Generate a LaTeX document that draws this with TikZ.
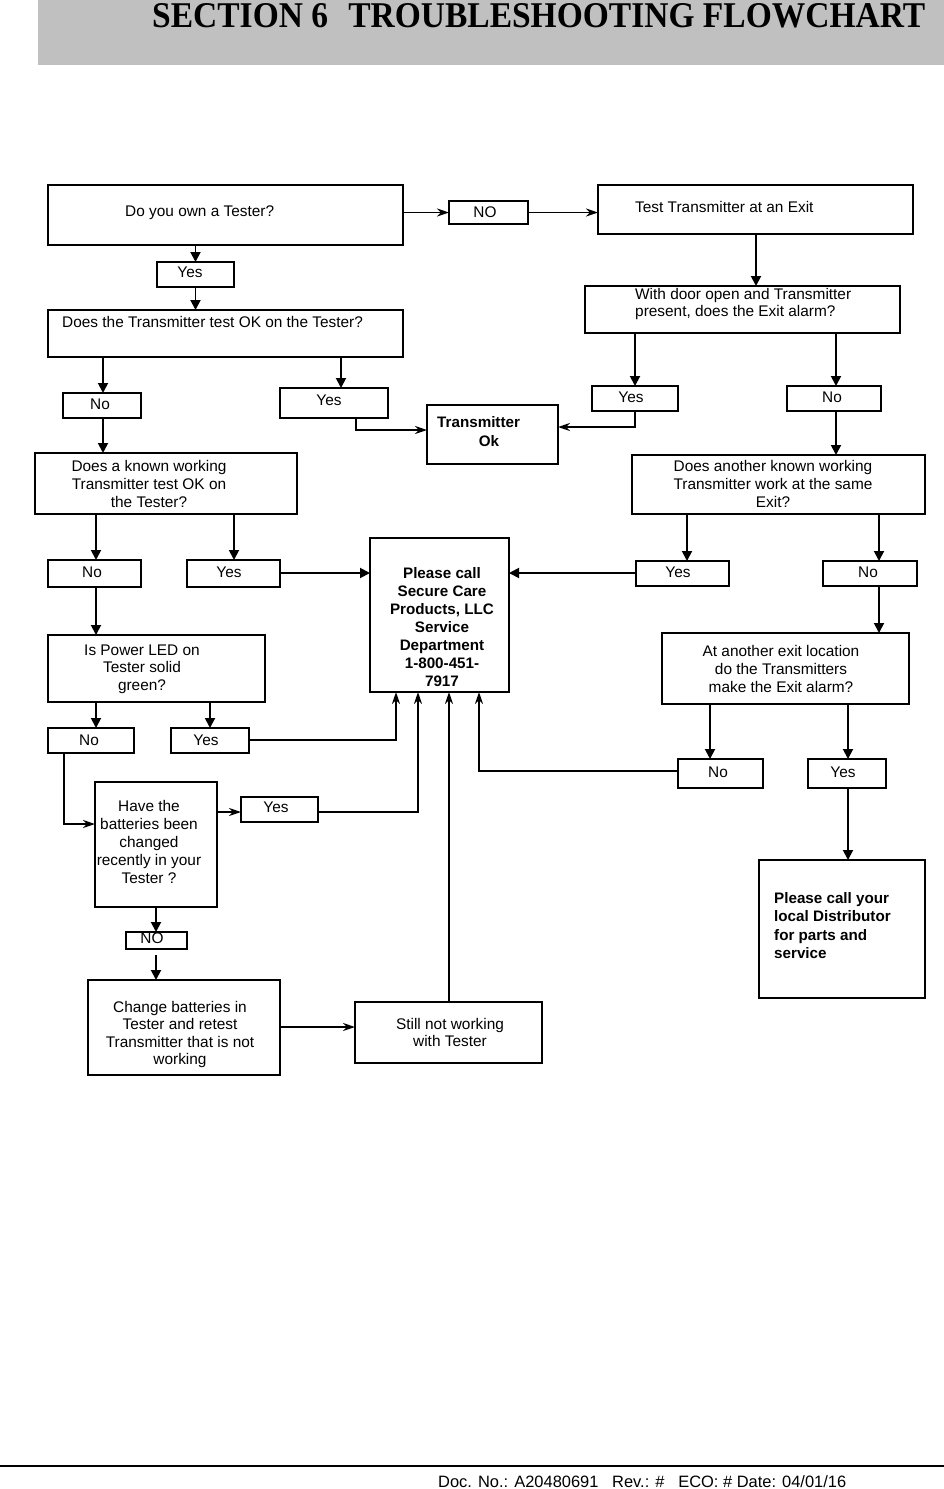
\documentclass[tikz,border=0pt]{standalone}
\usepackage{graphicx}
\usepackage{fontspec}
\setmainfont{Liberation Sans}
\newfontfamily\titlefont{Liberation Serif}
\usetikzlibrary{arrows.meta}
\definecolor{hdr}{RGB}{192,192,192}
\tikzset{
  box/.style={draw=black,line width=2pt,inner sep=0pt,outer sep=0pt},
  txt/.style={font=\fontsize{15.4}{17.6}\selectfont,inner sep=0pt,align=center},
  btxt/.style={font=\fontsize{15.2}{17.9}\selectfont\bfseries,inner sep=0pt,align=center},
  conn/.style={line width=1.9pt},
  darr/.style={conn,-{Triangle[length=10pt,width=10pt]}},
  tarr/.style={conn,-{Stealth[length=12pt,width=8pt,inset=4pt]}}
}
\newcommand\bx[5]{\node[box,minimum width={(#4-#2)*1pt},minimum height={(#5-#3)*1pt}] (#1) at ({(#2+#4)/2},{(#3+#5)/2}) {};}
\begin{document}
\begin{tikzpicture}[x=1pt,y=-1pt]
\useasboundingbox (0,0) rectangle (944,1489);
% header
\fill[hdr] (38,0) rectangle (944,65);
\node[anchor=south west,inner sep=0pt] (title) at (152,28) {\resizebox{773pt}{24pt}{\titlefont\bfseries SECTION 6\hspace{0.6em}TROUBLESHOOTING FLOWCHART}};
% footer
\draw[line width=2pt] (0,1466) -- (944,1466);
\node[anchor=west,inner sep=0pt] (foot) at (438,1482) {\resizebox{408pt}{!}{\fontsize{15}{18}\selectfont Doc. No.: A20480691\ \ \ Rev.: \#\ \ \ ECO: \# Date: 04/01/16}};

% boxes
\bx{bTester}{48}{185}{403}{245}
\bx{bNOa}{449}{201}{528}{224}
\bx{bTest}{598}{185}{913}{234}
\bx{bYesa}{157}{262}{234}{287}
\bx{bTestOK}{48}{310}{403}{357}
\bx{bNob}{63}{393}{141}{418}
\bx{bYesb}{280}{388}{388}{418}
\bx{bTOk}{427}{405}{558}{464}
\bx{bDoor}{585}{286}{900}{333}
\bx{bYesc}{592}{386}{678}{411}
\bx{bNoc}{787}{386}{881}{411}
\bx{bKnown}{35}{453}{297}{514}
\bx{bAnother}{632}{455}{925}{514}
\bx{bNod}{48}{560}{141}{587}
\bx{bYesd}{187}{560}{280}{587}
\bx{bCall}{370}{538}{509}{692}
\bx{bYese}{636}{561}{729}{586}
\bx{bNoe}{823}{561}{917}{586}
\bx{bLED}{48}{635}{265}{702}
\bx{bExit}{662}{633}{909}{704}
\bx{bNof}{48}{728}{134}{753}
\bx{bYesf}{171}{728}{249}{753}
\bx{bNog}{678}{759}{763}{788}
\bx{bYesg}{808}{759}{886}{788}
\bx{bDist}{759}{860}{925}{998}
\bx{bBatt}{95}{782}{217}{907}
\bx{bYesh}{241}{797}{318}{822}
\bx{bNOi}{126}{932}{187}{949}
\bx{bChange}{88}{980}{280}{1075}
\bx{bStill}{355}{1002}{542}{1063}

% texts
\node[txt,anchor=west] (t1) at (125,213) {Do you own a Tester?};
\node[txt] (t2) at (485,212) {NO};
\node[txt,anchor=west] (t3) at (635,207) {Test Transmitter at an Exit};
\node[txt] (t4) at (190,272) {Yes};
\node[txt,anchor=west] (t5) at (62,322) {Does the Transmitter test OK on the Tester?};
\node[txt] (t6) at (100,404) {No};
\node[txt] (t7) at (329,400) {Yes};
\node[btxt,anchor=west] (t8) at (437,422) {Transmitter};
\node[btxt] (t9) at (489,441) {Ok};
\node[txt,anchor=west,align=left,font=\fontsize{15.4}{17}\selectfont] (t10) at (635,304.5) {With door open and Transmitter\\present, does the Exit alarm?};
\node[txt] (t11) at (631,397) {Yes};
\node[txt] (t12) at (832,397) {No};
\node[txt] (t13) at (149,484) {Does a known working\\Transmitter test OK on\\the Tester?};
\node[txt] (t14) at (773,484) {Does another known working\\Transmitter work at the same\\Exit?};
\node[txt] (t15) at (92,572) {No};
\node[txt] (t16) at (229,572) {Yes};
\node[txt] (t17) at (678,572) {Yes};
\node[txt] (t18) at (868,572) {No};
\node[btxt] (t19) at (442,627) {Please call\\Secure Care\\Products, LLC\\Service\\Department\\1-800-451-\\7917};
\node[txt] (t20) at (142,669) {Is Power LED on\\Tester solid\\green?};
\node[txt] (t21) at (781,669) {At another exit location\\do the Transmitters\\make the Exit alarm?};
\node[txt] (t22) at (89,740) {No};
\node[txt] (t23) at (206,740) {Yes};
\node[txt] (t24) at (718,772) {No};
\node[txt] (t25) at (843,772) {Yes};
\node[btxt,anchor=west,align=left,font=\fontsize{15.2}{18.3}\selectfont\bfseries] (t26) at (774,925.5) {Please call your\\local Distributor\\for parts and\\service};
\node[txt,font=\fontsize{15.4}{17.8}\selectfont] (t27) at (149,842) {Have the\\batteries been\\changed\\recently in your\\Tester ?};
\node[txt] (t28) at (276,807) {Yes};
\node[txt] (t29) at (152,938) {NO};
\node[txt] (t30) at (180,1034.5) {Change batteries in\\Tester and retest\\Transmitter that is not\\working};
\node[txt,font=\fontsize{15.4}{17}\selectfont] (t31) at (450,1032.5) {Still not working\\with Tester};

% connectors
\draw[tarr] (bTester.east |- bNOa.west) -- (bNOa.west);
\draw[tarr] (bNOa.east) -- (bNOa.east -| bTest.west);
\draw[darr] (bTester.south -| bYesa.north) -- (bYesa.north);
\draw[darr] (bYesa.south) -- (bYesa.south |- bTestOK.north);
\draw[darr] (bTestOK.south -| 103,0) -- (bNob.north -| 103,0);
\draw[darr] (bTestOK.south -| 341,0) -- (bYesb.north -| 341,0);
\draw[tarr] (bYesb.south -| 356,0) |- (bTOk.west |- 0,430);
\draw[darr] (bTest.south -| 756,0) -- (bDoor.north -| 756,0);
\draw[darr] (bDoor.south -| 635,0) -- (bYesc.north -| 635,0);
\draw[darr] (bDoor.south -| 836,0) -- (bNoc.north -| 836,0);
\draw[tarr] (bYesc.south -| 635,0) |- (bTOk.east |- 0,427);
\draw[darr] (bNoc.south -| 836,0) -- (bAnother.north -| 836,0);
\draw[darr] (bNob.south -| 103,0) -- (bKnown.north -| 103,0);
\draw[darr] (bKnown.south -| 96,0) -- (bNod.north -| 96,0);
\draw[darr] (bKnown.south -| 234,0) -- (bYesd.north -| 234,0);
\draw[darr] (bYesd.east |- 0,573) -- (bCall.west |- 0,573);
\draw[darr] (bAnother.south -| 687,0) -- (bYese.north -| 687,0);
\draw[darr] (bAnother.south -| 879,0) -- (bNoe.north -| 879,0);
\draw[darr] (bYese.west |- 0,573) -- (bCall.east |- 0,573);
\draw[darr] (bNod.south -| 96,0) -- (bLED.north -| 96,0);
\draw[darr] (bNoe.south -| 879,0) -- (bExit.north -| 879,0);
\draw[darr] (bLED.south -| 96,0) -- (bNof.north -| 96,0);
\draw[darr] (bLED.south -| 210,0) -- (bYesf.north -| 210,0);
\draw[tarr] (bYesf.east |- 0,740) -| (bCall.south -| 396,0);
\draw[darr] (bExit.south -| 710,0) -- (bNog.north -| 710,0);
\draw[darr] (bExit.south -| 848,0) -- (bYesg.north -| 848,0);
\draw[tarr] (bNog.west |- 0,771) -| (bCall.south -| 479,0);
\draw[darr] (bYesg.south -| 848,0) -- (bDist.north -| 848,0);
\draw[tarr] (bNof.south -| 64,0) |- (bBatt.west |- 0,824);
\draw[tarr] (bBatt.east |- 0,812) -- (bYesh.west |- 0,812);
\draw[tarr] (bYesh.east |- 0,812) -| (bCall.south -| 418,0);
\draw[darr] (bBatt.south -| 156,0) -- (bNOi.north -| 156,0);
\coordinate (nogap) at (156,955);
\draw[darr] (nogap) -- (bChange.north -| nogap);
\draw[tarr] (bChange.east |- 0,1027) -- (bStill.west |- 0,1027);
\draw[tarr] (bStill.north -| 449,0) -- (bCall.south -| 449,0);
\end{tikzpicture}
\end{document}
